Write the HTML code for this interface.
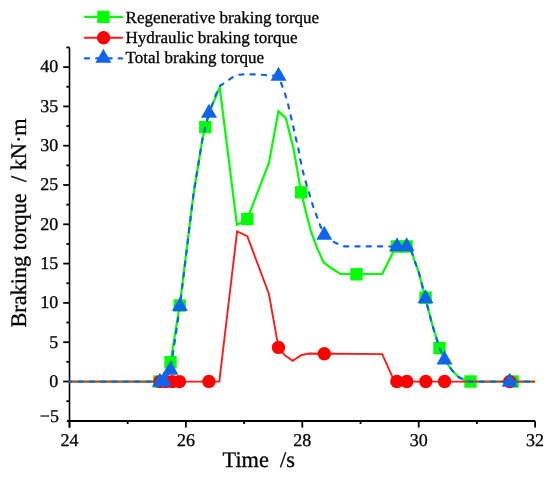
<!DOCTYPE html>
<html><head><meta charset="utf-8"><style>
html,body{margin:0;padding:0;background:#fff;width:550px;height:477px;overflow:hidden}
svg{display:block}
text{text-rendering:geometricPrecision;stroke:#000;stroke-width:0.3px}
</style></head><body>
<svg width="550" height="477" viewBox="0 0 550 477">
<rect width="550" height="477" fill="#fff"/>
<g stroke="#000" stroke-width="1.8" fill="none" stroke-linecap="butt">
<path d="M69.5,47.4 V427.6" stroke-width="1.6"/>
<path d="M66.9,421 H535.1" stroke-width="2"/>
<path d="M63.2,381.50 H69.5"/>
<path d="M63.2,342.20 H69.5"/>
<path d="M63.2,302.90 H69.5"/>
<path d="M63.2,263.60 H69.5"/>
<path d="M63.2,224.30 H69.5"/>
<path d="M63.2,185.00 H69.5"/>
<path d="M63.2,145.70 H69.5"/>
<path d="M63.2,106.40 H69.5"/>
<path d="M63.2,67.10 H69.5"/>
<path d="M66.4,401.15 H69.5"/>
<path d="M66.4,361.85 H69.5"/>
<path d="M66.4,322.55 H69.5"/>
<path d="M66.4,283.25 H69.5"/>
<path d="M66.4,243.95 H69.5"/>
<path d="M66.4,204.65 H69.5"/>
<path d="M66.4,165.35 H69.5"/>
<path d="M66.4,126.05 H69.5"/>
<path d="M66.4,86.75 H69.5"/>
<path d="M66.4,47.45 H69.5"/>
<path d="M69.50,421 V427.6"/>
<path d="M127.70,421 V424.0"/>
<path d="M185.90,421 V427.6"/>
<path d="M244.10,421 V424.0"/>
<path d="M302.30,421 V427.6"/>
<path d="M360.50,421 V424.0"/>
<path d="M418.70,421 V427.6"/>
<path d="M476.90,421 V424.0"/>
<path d="M535.10,421 V427.6"/>
</g>
<polyline points="69.5,381.6 159.5,381.6 170.5,362.2 179.7,305.5 193.5,194.0 202.3,140.0 205.3,127.1 209.0,113.0 219.7,87.3 236.9,224.7 241.3,222.5 247.3,219.0 268.9,163.0 278.5,111.3 285.8,118.2 293.4,147.9 300.0,185.5 301.2,192.3 307.0,216.4 311.0,231.5 316.5,246.6 323.5,262.2 331.0,268.0 340.5,273.9 382.2,274.0 396.0,246.5 406.6,246.5 411.3,250.5 414.6,260.8 418.6,271.7 421.9,284.3 425.5,298.5 431.0,320.0 433.4,328.4 439.5,348.0 444.5,360.0 452.7,371.1 458.5,377.0 464.4,380.0 470.0,381.6 535.1,381.6" fill="none" stroke="#00ff00" stroke-width="2.2" stroke-linejoin="miter"/>
<g fill="#00ff00"><rect x="153.30" y="375.40" width="12.4" height="12.4"/><rect x="164.30" y="356.00" width="12.4" height="12.4"/><rect x="173.50" y="299.30" width="12.4" height="12.4"/><rect x="199.10" y="120.90" width="12.4" height="12.4"/><rect x="241.10" y="212.80" width="12.4" height="12.4"/><rect x="295.00" y="186.10" width="12.4" height="12.4"/><rect x="350.30" y="268.10" width="12.4" height="12.4"/><rect x="390.80" y="240.30" width="12.4" height="12.4"/><rect x="400.40" y="240.30" width="12.4" height="12.4"/><rect x="419.40" y="291.50" width="12.4" height="12.4"/><rect x="433.30" y="341.90" width="12.4" height="12.4"/><rect x="464.30" y="375.30" width="12.4" height="12.4"/><rect x="506.40" y="375.30" width="12.4" height="12.4"/></g>
<polyline points="69.5,381.6 219.3,381.6 237.1,231.4 247.3,236.2 268.9,294.0 278.5,347.4 285.2,355.5 292.7,360.8 301.1,355.1 308.7,353.5 382.2,354.1 394.5,381.6 535.1,381.6" fill="none" stroke="#ff1a1a" stroke-width="1.9" stroke-linejoin="miter"/>
<g fill="#ff0000"><circle cx="160.00" cy="381.60" r="6.7"/><circle cx="166.00" cy="381.60" r="6.7"/><circle cx="172.30" cy="381.60" r="6.7"/><circle cx="179.40" cy="381.60" r="6.7"/><circle cx="208.90" cy="381.40" r="6.7"/><circle cx="278.50" cy="347.40" r="6.7"/><circle cx="324.30" cy="353.80" r="6.7"/><circle cx="396.90" cy="381.50" r="6.7"/><circle cx="406.80" cy="381.50" r="6.7"/><circle cx="425.80" cy="381.50" r="6.7"/><circle cx="444.60" cy="381.50" r="6.7"/><circle cx="509.80" cy="381.60" r="6.7"/></g>
<polyline points="69.5,381.6 159.5,381.6 163.8,381.0 170.5,370.2 179.9,306.4 193.5,194.0 202.3,140.0 205.3,127.1 209.0,113.0" fill="none" stroke="#0f64eb" stroke-width="2.2" stroke-linecap="round" stroke-dasharray="4.2 7.1" stroke-dashoffset="2.25"/>
<polyline points="209.0,113.0 219.0,86.7 223.0,83.8 227.4,80.9 232.5,77.3 238.3,74.8 244.0,74.4 256.5,74.4 266.6,75.1 278.5,76.2" fill="none" stroke="#0f64eb" stroke-width="2.2" stroke-linecap="round" stroke-dasharray="4.2 7.1" stroke-dashoffset="4.66"/>
<polyline points="278.5,76.2 280.7,81.8 284.5,92.2 287.7,102.5 290.2,113.8 293.0,125.2 295.4,136.5 298.3,147.8 300.2,159.1 302.6,170.4 306.8,185.6 313.2,206.6 320.2,225.5 324.3,235.0" fill="none" stroke="#0f64eb" stroke-width="2.2" stroke-linecap="round" stroke-dasharray="4.2 7.1" stroke-dashoffset="4.18"/>
<polyline points="324.3,235.0 334.3,242.2 343.7,246.4 397.0,246.5 406.6,246.5" fill="none" stroke="#0f64eb" stroke-width="2.2" stroke-linecap="round" stroke-dasharray="4.2 7.1" stroke-dashoffset="10.91"/>
<polyline points="406.6,246.5 411.3,250.5 414.6,260.8 418.6,271.7 421.9,284.3 425.5,298.5 431.0,320.0 433.4,328.4 439.5,348.0 444.5,360.0 452.7,371.1 458.5,377.0 464.4,380.0 470.0,381.6 535.1,381.6" fill="none" stroke="#0f64eb" stroke-width="2.2" stroke-linecap="round" stroke-dasharray="4.2 7.1" stroke-dashoffset="4.57"/>
<g fill="#0f64eb"><polygon points="159.90,372.67 167.90,386.67 151.90,386.67"/><polygon points="163.80,371.97 171.80,385.97 155.80,385.97"/><polygon points="170.50,360.87 178.50,374.87 162.50,374.87"/><polygon points="179.90,297.07 187.90,311.07 171.90,311.07"/><polygon points="209.00,103.67 217.00,117.67 201.00,117.67"/><polygon points="278.50,66.87 286.50,80.87 270.50,80.87"/><polygon points="324.30,225.67 332.30,239.67 316.30,239.67"/><polygon points="397.00,237.17 405.00,251.17 389.00,251.17"/><polygon points="406.60,237.17 414.60,251.17 398.60,251.17"/><polygon points="425.50,289.37 433.50,303.37 417.50,303.37"/><polygon points="444.50,350.57 452.50,364.57 436.50,364.57"/><polygon points="509.70,372.77 517.70,386.77 501.70,386.77"/></g>
<path d="M84.1,16.9 H122.9" stroke="#00ff00" stroke-width="2.2"/><g fill="#00ff00"><rect x="97.20" y="10.70" width="12.4" height="12.4"/></g>
<path d="M84.1,37.7 H122.9" stroke="#ff1a1a" stroke-width="1.9"/><g fill="#ff0000"><circle cx="103.60" cy="37.70" r="6.7"/></g>
<path d="M84.9,58.4 H122.0" stroke="#0f64eb" stroke-width="2.2" stroke-linecap="round" stroke-dasharray="4.2 7.1"/><g fill="#0f64eb"><polygon points="103.40,48.87 111.40,62.87 95.40,62.87"/></g>
<g font-family="Liberation Serif, Times New Roman, serif" fill="#000" font-size="17">
<text x="125.6" y="22.6">Regenerative braking torque</text>
<text x="125.6" y="43.1">Hydraulic braking torque</text>
<text x="125.6" y="63.3">Total braking torque</text>
</g>
<g font-family="Liberation Serif, Times New Roman, serif" fill="#000" font-size="18" text-anchor="end">
<text x="59.0" y="422.20">−5</text>
<text x="58.2" y="386.80">0</text>
<text x="58.2" y="347.50">5</text>
<text x="58.2" y="308.20">10</text>
<text x="58.2" y="268.90">15</text>
<text x="58.2" y="229.60">20</text>
<text x="58.2" y="190.30">25</text>
<text x="58.2" y="151.00">30</text>
<text x="58.2" y="111.70">35</text>
<text x="58.2" y="72.40">40</text>
</g>
<g font-family="Liberation Serif, Times New Roman, serif" fill="#000" font-size="18" text-anchor="middle">
<text x="69.50" y="446.1">24</text>
<text x="185.90" y="446.1">26</text>
<text x="302.30" y="446.1">28</text>
<text x="418.70" y="446.1">30</text>
<text x="535.10" y="446.1">32</text>
</g>
<text font-family="Liberation Serif, Times New Roman, serif" fill="#000" font-size="22.3" x="222.6" y="467" xml:space="preserve">Time  /s</text>
<text font-family="Liberation Serif, Times New Roman, serif" fill="#000" font-size="22.3" transform="translate(25.7,327.6) rotate(-90)" xml:space="preserve">Braking torque  / kN·m</text>
</svg>
</body></html>
